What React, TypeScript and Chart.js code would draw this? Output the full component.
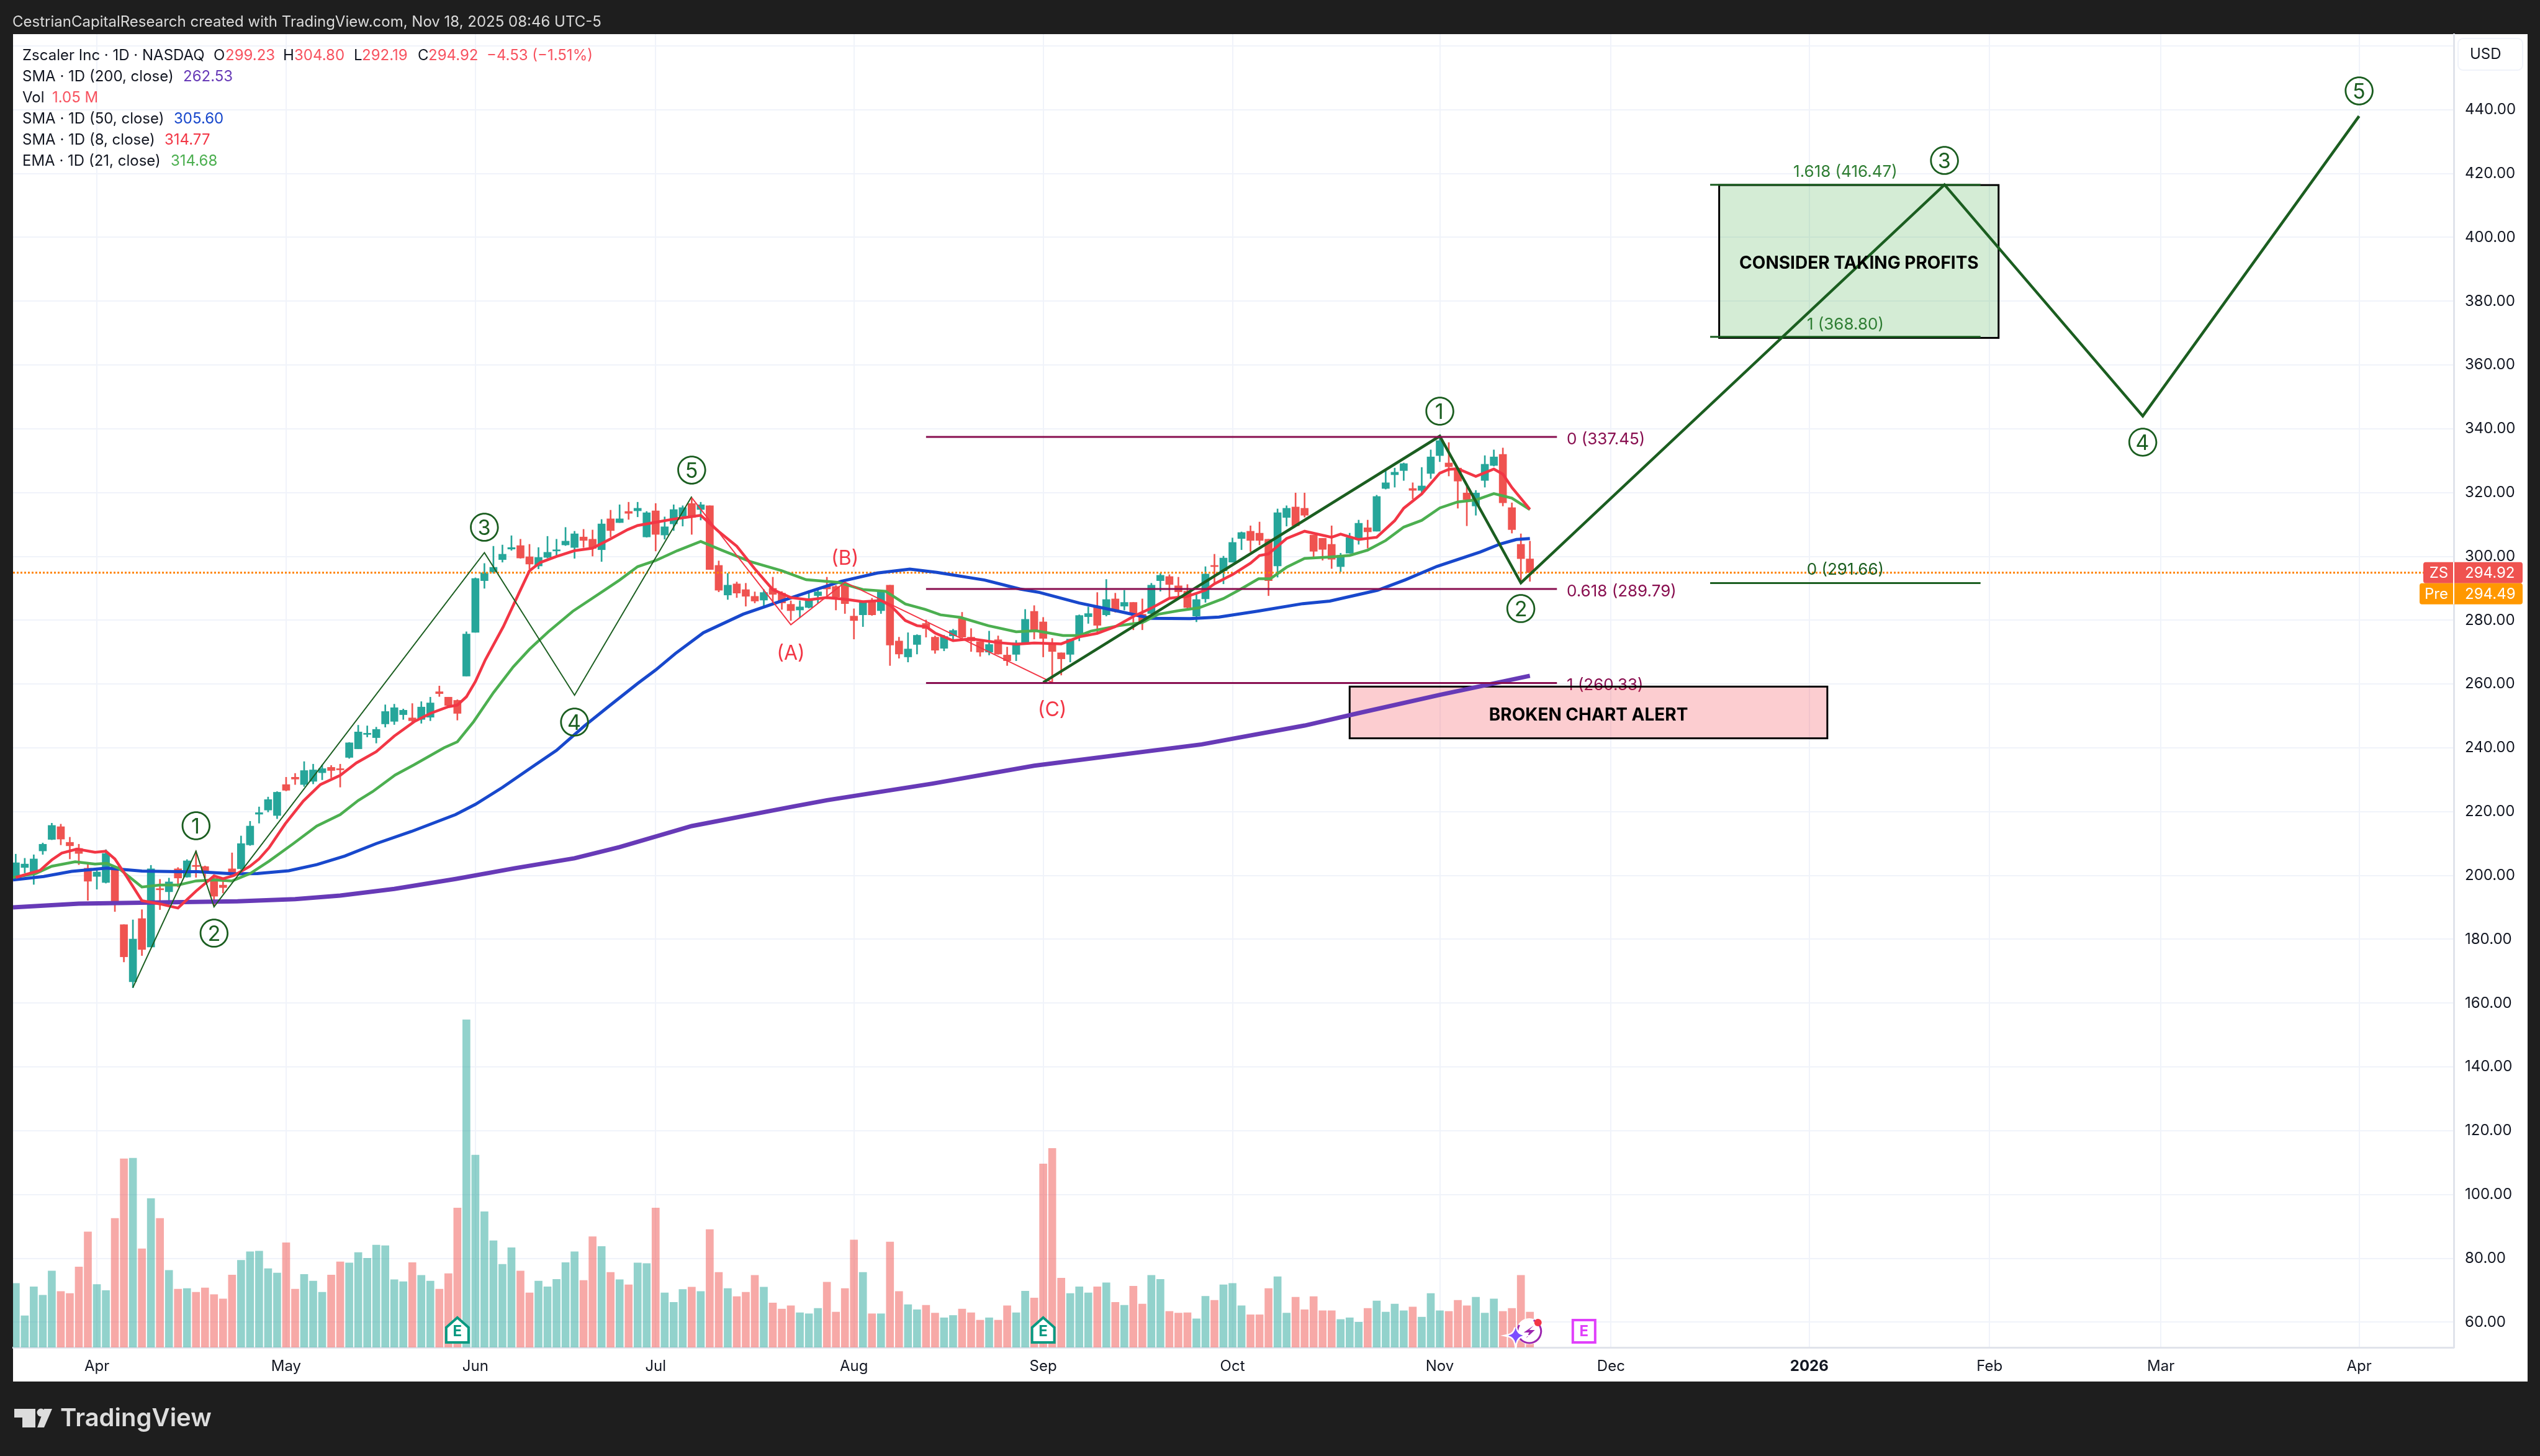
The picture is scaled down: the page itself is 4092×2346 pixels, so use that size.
import React, { useEffect, useRef } from 'react';
import { Chart, registerables } from 'chart.js';

Chart.register(...registerables);

// bars run from index -9 (mid March) to 159 (Nov 17), index 0 = Apr 1
const firstBar = -9;

const opens = [
  199.4, 202.5, 200.5, 207.7, 211.3, 215.3, 210.4, 208.5, 202.3, 199.7,
  197.8, 202.8, 184.6, 166.7, 186.5, 177.6, 195.9, 194.9, 202.1, 199.5,
  203.2, 202.8, 199.2, 197.0, 202.1, 202.1, 209.6, 219.2, 220.5, 218.8,
  228.5, 230.8, 228.5, 229.5, 232.2, 233.9, 233.5, 237.0, 239.7, 244.2,
  243.2, 247.5, 248.3, 250.4, 249.4, 248.9, 249.6, 257.6, 255.9, 254.9,
  262.5, 276.2, 292.4, 295.1, 299.0, 302.3, 303.4, 299.9, 297.0, 299.7,
  301.7, 303.6, 302.8, 306.1, 305.4, 302.1, 311.8, 310.6, 314.1, 314.3,
  306.1, 314.3, 306.7, 310.2, 312.6, 316.6, 314.7, 315.9, 297.2, 287.9,
  291.4, 289.6, 287.5, 286.3, 290.0, 288.5, 285.0, 283.2, 284.0, 287.7,
  290.6, 290.6, 291.0, 281.3, 281.7, 286.0, 283.0, 291.0, 273.5, 268.5,
  272.4, 279.0, 274.7, 271.2, 275.1, 280.5, 274.7, 273.3, 270.0, 273.9,
  269.1, 269.3, 272.6, 282.8, 279.5, 272.4, 269.8, 269.3, 274.7, 281.1,
  284.2, 281.7, 286.7, 284.4, 285.6, 281.9, 282.1, 292.4, 293.7, 290.8,
  289.1, 281.3, 286.7, 297.2, 295.5, 298.2, 305.6, 307.9, 307.3, 305.4,
  297.0, 312.2, 315.5, 315.1, 306.7, 305.7, 303.8, 296.8, 301.0, 305.5,
  309.0, 307.9, 321.3, 325.6, 326.9, 321.3, 320.7, 326.0, 331.6, 329.3,
  327.7, 319.9, 315.8, 323.8, 328.5, 332.0, 315.3, 303.8, 299.23,
];
const highs = [
  206.7, 205.4, 206.5, 210.2, 216.4, 216.1, 212.0, 209.8, 203.4, 202.3,
  208.1, 202.8, 184.6, 186.1, 189.3, 203.2, 198.8, 199.2, 202.5, 205.0,
  207.7, 203.0, 199.4, 199.0, 207.1, 212.4, 217.0, 221.5, 224.6, 226.3,
  230.8, 232.0, 235.7, 234.9, 234.7, 234.5, 234.9, 241.7, 247.1, 246.9,
  246.5, 253.5, 253.7, 252.2, 253.9, 254.5, 255.9, 259.4, 255.9, 255.1,
  276.4, 293.3, 297.8, 303.2, 303.6, 306.5, 305.4, 303.8, 302.8, 306.3,
  305.4, 309.1, 307.9, 308.5, 308.3, 311.6, 314.5, 316.2, 317.0, 317.0,
  314.1, 316.6, 312.4, 316.2, 315.9, 318.4, 317.0, 315.9, 298.6, 294.7,
  292.0, 291.6, 288.9, 289.6, 293.5, 289.0, 286.1, 286.1, 289.3, 289.6,
  293.5, 290.9, 292.0, 283.6, 286.1, 286.9, 289.3, 291.0, 274.7, 276.1,
  275.5, 280.1, 275.1, 275.3, 277.2, 282.5, 277.4, 273.3, 276.6, 275.1,
  271.6, 273.7, 283.4, 284.6, 280.9, 274.3, 269.8, 274.1, 281.7, 284.2,
  288.7, 292.8, 288.5, 289.4, 285.6, 286.7, 291.6, 294.7, 294.3, 293.5,
  291.2, 288.5, 296.8, 300.7, 300.1, 305.8, 307.7, 309.6, 310.8, 305.4,
  314.9, 315.9, 319.9, 319.9, 306.7, 305.7, 309.6, 301.0, 307.3, 311.4,
  311.4, 319.2, 326.8, 327.7, 329.3, 323.1, 327.9, 333.4, 337.7, 335.7,
  327.7, 321.9, 320.7, 331.6, 333.4, 334.0, 316.8, 307.1, 304.8,
];
const lows = [
  199.0, 200.8, 197.2, 206.6, 211.2, 209.6, 205.2, 203.4, 192.2, 195.7,
  197.6, 188.7, 172.9, 164.8, 174.9, 177.6, 189.3, 190.6, 196.4, 199.4,
  199.4, 199.2, 190.6, 194.5, 200.3, 201.9, 209.4, 216.4, 219.9, 217.8,
  226.5, 228.5, 227.9, 228.7, 230.0, 230.6, 227.7, 236.7, 239.7, 243.4,
  241.5, 246.5, 247.3, 248.9, 247.9, 247.7, 248.5, 256.1, 253.3, 248.7,
  262.5, 276.2, 290.0, 294.7, 298.2, 301.9, 299.4, 296.1, 296.1, 299.5,
  299.9, 303.4, 299.4, 302.8, 300.1, 298.4, 306.1, 310.6, 311.6, 312.4,
  306.0, 301.7, 305.4, 308.1, 309.5, 306.9, 311.4, 295.9, 288.9, 286.5,
  287.1, 284.4, 285.4, 284.6, 285.4, 283.4, 279.9, 280.9, 283.8, 285.4,
  286.7, 283.2, 282.1, 274.1, 278.0, 281.5, 282.1, 265.8, 268.1, 266.9,
  269.4, 274.7, 269.6, 270.4, 273.9, 273.7, 270.2, 268.7, 269.1, 269.3,
  265.8, 267.3, 272.6, 274.1, 268.5, 260.5, 262.8, 266.9, 273.5, 279.0,
  276.2, 281.3, 282.5, 283.2, 277.0, 277.0, 282.1, 289.1, 286.9, 287.5,
  283.2, 279.5, 285.6, 291.4, 291.4, 298.2, 302.1, 301.5, 303.6, 287.7,
  293.5, 309.5, 309.6, 312.3, 299.5, 298.8, 296.2, 295.2, 301.0, 303.8,
  302.6, 307.9, 321.1, 321.7, 323.8, 318.0, 319.4, 324.4, 329.7, 325.2,
  315.1, 309.6, 312.9, 321.7, 328.3, 315.8, 307.3, 292.3, 292.19,
];
const closes = [
  204.0, 203.6, 205.2, 209.8, 215.7, 211.4, 209.3, 206.9, 198.2, 201.1,
  206.9, 192.0, 174.5, 180.1, 176.8, 202.1, 195.5, 198.0, 199.2, 204.6,
  202.8, 200.9, 193.5, 196.2, 200.3, 210.0, 215.5, 219.7, 223.8, 226.1,
  226.7, 230.2, 232.9, 233.1, 233.5, 232.9, 233.1, 241.6, 245.0, 244.6,
  245.8, 251.4, 252.6, 251.8, 248.5, 252.8, 254.1, 257.0, 253.3, 250.8,
  275.7, 293.1, 294.9, 296.6, 300.7, 302.8, 299.5, 297.6, 299.7, 301.3,
  302.1, 304.8, 307.1, 305.0, 302.5, 310.2, 308.1, 311.8, 313.5, 315.1,
  313.7, 306.9, 309.3, 314.7, 315.3, 312.2, 316.2, 295.9, 289.4, 291.0,
  288.5, 287.5, 286.0, 288.7, 288.1, 285.4, 283.0, 284.2, 286.1, 288.9,
  289.8, 287.3, 285.2, 279.9, 286.0, 281.7, 289.3, 272.2, 269.4, 271.0,
  275.3, 277.4, 270.6, 274.9, 276.8, 274.7, 273.5, 270.0, 272.4, 269.4,
  267.3, 272.9, 280.3, 276.8, 274.3, 270.2, 267.9, 274.1, 281.5, 282.1,
  278.4, 286.5, 282.8, 285.6, 281.7, 279.4, 291.0, 294.1, 291.2, 288.9,
  284.0, 286.5, 294.5, 296.8, 299.5, 304.4, 307.5, 305.0, 305.0, 292.4,
  313.7, 315.1, 309.6, 312.9, 301.6, 302.2, 299.1, 300.3, 305.9, 310.4,
  307.7, 318.8, 323.1, 326.4, 329.1, 320.7, 322.1, 331.2, 336.3, 328.1,
  323.6, 317.8, 319.9, 328.9, 331.2, 316.8, 308.4, 299.3, 294.92,
];
const volumes = [
  1.90, 0.94, 1.80, 1.55, 2.27, 1.66, 1.60, 2.39, 3.43, 1.87, 1.69, 3.83, 5.60, 5.62, 2.93, 4.42, 3.83, 2.29, 1.73, 1.75,
  1.64, 1.77, 1.57, 1.44, 2.15, 2.59, 2.84, 2.86, 2.34, 2.21, 3.11, 1.73, 2.17, 1.97, 1.64, 2.15, 2.54, 2.51, 2.82, 2.65,
  3.04, 3.02, 2.01, 1.95, 2.52, 2.14, 1.97, 1.73, 2.19, 4.14, 9.73, 5.71, 4.03, 3.17, 2.47, 2.96, 2.27, 1.62, 1.97, 1.80,
  2.02, 2.52, 2.84, 1.99, 3.29, 3.00, 2.23, 2.01, 1.86, 2.51, 2.49, 4.14, 1.62, 1.34, 1.72, 1.79, 1.66, 3.50, 2.23, 1.75,
  1.51, 1.64, 2.14, 1.79, 1.32, 1.14, 1.24, 1.03, 1.00, 1.16, 1.94, 1.05, 1.75, 3.19, 2.23, 1.00, 1.00, 3.13, 1.66, 1.27,
  1.12, 1.25, 1.02, 0.88, 0.95, 1.14, 1.03, 0.81, 0.88, 0.81, 1.24, 1.03, 1.67, 1.47, 5.45, 5.91, 2.06, 1.60, 1.80, 1.62,
  1.80, 1.92, 1.34, 1.25, 1.82, 1.29, 2.14, 2.02, 1.07, 1.02, 1.03, 0.85, 1.52, 1.40, 1.86, 1.90, 1.24, 0.97, 0.97, 1.75,
  2.10, 1.02, 1.49, 1.12, 1.51, 1.09, 1.09, 0.83, 0.88, 0.75, 1.16, 1.38, 1.05, 1.29, 1.09, 1.20, 0.90, 1.60, 1.09, 1.07,
  1.40, 1.24, 1.49, 1.02, 1.44, 1.07, 1.16, 2.14, 1.05,
];

// moving averages: [bar index, price]
const sma200: [number, number][] = [
  [-9.3, 190.0], [-2, 191.2], [6, 191.5], [15.6, 191.9], [22, 192.6], [27, 193.7], [33, 195.8], [39.8, 198.9], [46.4, 202.3], [53, 205.4], [58, 208.9],
  [66, 215.5], [77.4, 221.7], [81, 223.6], [92.7, 228.8], [104, 234.4], [122.6, 241.1], [134, 247.0], [140, 250.9], [149, 256.6], [159, 262.6],
];
const sma50: [number, number][] = [
  [-9.3, 198.6], [-5.9, 199.7], [-2.8, 201.3], [1.1, 202.3], [5, 201.4], [9, 201.2], [11.2, 201.2], [15.2, 200.5], [17.8, 200.6], [21.3, 201.5], [24.4, 203.4],
  [27.5, 206.1], [31, 210.0], [34.9, 213.8], [39.8, 219.1], [42, 222.3], [45, 227.6], [48.6, 234.6], [51, 239.2], [54.1, 246.9], [56.7, 252.8], [60, 260.2],
  [62, 264.4], [64.2, 269.6], [67.3, 276.1], [71.7, 281.9], [75.7, 285.8], [79.1, 289.0], [82.6, 292.2], [86.6, 294.8], [90.2, 296.0], [93.2, 295.0], [98.5, 292.6],
  [102.4, 289.8], [104.6, 288.7], [109, 285.4], [113.4, 282.8], [116.9, 280.6], [121.3, 280.5], [124.5, 281.0], [128.9, 282.9], [133.8, 285.2], [136.8, 286.0],
  [142.1, 289.4], [145.2, 292.7], [148.7, 296.9], [153.5, 301.4], [155.7, 303.9], [157.5, 305.3], [159, 305.6],
];
const ema21: [number, number][] = [
  [-9.3, 199.4], [-6.8, 200.6], [-5, 202.9], [-2.4, 204.3], [-0.2, 203.6], [1.1, 203.8], [2.4, 202.3], [5, 196.4], [7, 197.0], [9, 197.0], [11, 198.3], [13, 198.6],
  [15, 198.3], [17, 200.6], [19.1, 204.5], [21.8, 210.0], [24.4, 215.5], [27, 219.1], [29, 223.5], [30.6, 226.3], [33.1, 231.5], [35.2, 234.7], [38.5, 240.0], [40, 241.9],
  [41.8, 248.2], [44, 257.3], [46.2, 265.4], [48, 270.9], [50.1, 276.4], [52.8, 282.8], [56.1, 289.0], [58, 292.6], [60, 296.8], [62, 298.7], [64.4, 301.8], [67, 304.7],
  [69.4, 301.9], [72.5, 298.4], [76, 295.5], [78.7, 292.7], [82.2, 291.9], [85, 289.6], [87.5, 289.1], [89.7, 285.1], [91.9, 283.4], [93.6, 281.7], [95.8, 280.9],
  [98.9, 278.3], [102, 276.4], [104.2, 276.7], [107.2, 275.2], [109, 275.2], [110.3, 276.6], [113.4, 278.3], [116, 279.3], [117.8, 281.9], [120, 283.0], [122.3, 283.9],
  [125, 286.8], [126.7, 289.4], [128.9, 293.0], [130.2, 293.0], [132, 296.6], [134, 299.4], [136.8, 299.8], [139, 300.3], [141, 302.0], [143, 305.0], [145, 309.2],
  [147, 311.3], [149, 315.2], [151, 317.1], [153, 317.7], [155, 319.7], [157, 318.3], [159, 314.68],
];
const sma8: [number, number][] = [
  [-9, 199.4], [-6.3, 201.6], [-5, 204.9], [-3.9, 207.0], [-2.2, 208.3], [-0.2, 207.3], [1, 207.6], [2, 205.2], [3.3, 199.7], [5, 192.1], [7, 191.1], [9, 189.8], [11, 195.1],
  [13, 199.9], [14, 199.0], [15.2, 200.0], [17, 202.9], [18, 205.2], [19.1, 208.7], [20.9, 216.2], [22.9, 223.3], [24.8, 228.5], [27, 231.4], [28.8, 235.3], [31, 238.8],
  [33, 243.7], [35.2, 248.2], [37, 250.8], [39, 252.9], [40, 253.4], [41, 256.0], [42, 260.8], [43.1, 267.6], [45.1, 278.0], [46.8, 288.3], [48, 295.5], [49.2, 298.1],
  [51, 300.0], [53, 301.8], [55, 302.6], [57, 305.5], [58.9, 308.4], [60, 309.7], [62, 310.7], [64.2, 311.8], [67, 312.9], [69, 307.8], [71, 303.2], [73, 296.1], [75, 289.6],
  [77, 287.1], [79, 286.4], [81, 287.1], [83, 286.6], [85, 285.8], [87, 286.2], [88.1, 284.5], [89.7, 279.9], [91, 278.3], [92, 278.0], [93, 276.0], [95, 273.6], [97, 274.2],
  [100, 273.0], [102, 272.5], [104, 272.9], [107, 272.6], [109, 274.8], [111, 275.9], [113, 278.0], [115, 281.2], [117, 283.8], [119, 286.9], [121, 287.5], [123, 289.4],
  [124, 291.4], [126, 294.3], [128, 297.9], [129, 300.3], [130, 300.8], [132, 305.6], [134, 307.9], [137, 306.0], [138, 307.0], [140, 305.3], [142, 306.0], [144, 311.2],
  [145, 315.1], [147, 319.6], [149, 326.1], [150, 327.3], [151, 327.5], [153, 325.1], [155, 327.4], [156, 325.8], [157, 321.6], [159, 314.77],
];

// drawn wave counts
const thinWave: [number, number][] = [[4, 164.9], [11, 207.6], [13, 190.2], [43, 301.2], [53, 256.5], [66, 318.8]];
const redWave: [number, number][] = [[66, 318.4], [77, 278.6], [83, 291.9], [106, 260.5]];
const thickWave: [number, number][] = [[105, 260.5], [149, 337.7], [158, 291.7], [205, 416.5], [227, 344.0], [251, 438.0]];

const fibSpan = [92, 162];
const fibLevels = [337.45, 289.79, 260.33];
const fibTexts = ['0 (337.45)', '0.618 (289.79)', '1 (260.33)'];
const targetSpan = [179, 209];
const targetLevels = [416.47, 368.8, 291.66];
const lastPrice = 294.92;

const waveLabels: [string, number, number][] = [
  ['①', 11, 215.7], ['②', 13, 182.1], ['③', 43, 309.3], ['④', 53, 248.2], ['⑤', 66, 327.2],
  ['①', 149, 345.6], ['②', 158, 283.8], ['③', 205, 424.3], ['④', 227, 336.0], ['⑤', 251, 446.0],
];
const abcLabels: [string, number, number][] = [['(A)', 77, 269.9], ['(B)', 83, 299.6], ['(C)', 106, 252.2]];

const monthTicks = [0, 21, 42, 62, 84, 105, 126, 149, 168, 190, 210, 229, 251];
const monthLabels = ['Apr', 'May', 'Jun', 'Jul', 'Aug', 'Sep', 'Oct', 'Nov', 'Dec', '2026', 'Feb', 'Mar', 'Apr'];
const priceTicks = [60, 80, 100, 120, 140, 160, 180, 200, 220, 240, 260, 280, 300, 320, 340, 360, 380, 400, 420, 440, 460];

const UP = '#26a69a';
const DOWN = '#ef5350';
const DARK_GREEN = '#1b5e20';
const FIB = '#880e4f';
const FONT = 'Inter, "Noto Sans", sans-serif';

const toPoints = (list: [number, number][]) => list.map(([x, y]) => ({ x, y }));
const barX = (i: number) => firstBar + i;
const isUp = (i: number) => closes[i] >= opens[i];

const pageBackground = {
  id: 'pageBackground',
  beforeDraw(chart: Chart) {
    const { ctx, width, height } = chart;
    ctx.save();
    ctx.fillStyle = '#1e1e1e';
    ctx.fillRect(0, 0, width, height);
    ctx.fillStyle = '#ffffff';
    ctx.fillRect(21, 55, 4051, 2171);
    ctx.restore();
  },
};

function label(ctx: CanvasRenderingContext2D, text: string, x: number, y: number, font: string, color: string, align: CanvasTextAlign = 'left') {
  ctx.font = font;
  ctx.fillStyle = color;
  ctx.textAlign = align;
  ctx.textBaseline = 'middle';
  ctx.fillText(text, x, y);
}

// fib labels sit under the boxes, the boxes sit under the series
const drawingsBelow = {
  id: 'drawingsBelow',
  beforeDatasetsDraw(chart: Chart) {
    const { ctx } = chart;
    const xs = chart.scales.x;
    const ys = chart.scales.y;
    ctx.save();
    fibTexts.forEach((text, i) => {
      label(ctx, text, 2524, ys.getPixelForValue(fibLevels[i]) + 4, `26px ${FONT}`, FIB);
    });
    const box = (x1: number, x2: number, y1: number, y2: number, fill: string) => {
      const left = xs.getPixelForValue(x1);
      const right = xs.getPixelForValue(x2);
      const top = ys.getPixelForValue(y1);
      const bottom = ys.getPixelForValue(y2);
      ctx.fillStyle = fill;
      ctx.fillRect(left, top, right - left, bottom - top);
      ctx.strokeStyle = '#000000';
      ctx.lineWidth = 3;
      ctx.strokeRect(left, top, right - left, bottom - top);
    };
    box(180, 211, 416.4, 368.5, 'rgba(76,175,80,0.24)');
    box(139, 192, 259.2, 243, 'rgba(242,54,69,0.25)');
    ctx.restore();
  },
};

const drawingsAbove = {
  id: 'drawingsAbove',
  afterDatasetsDraw(chart: Chart) {
    const { ctx } = chart;
    const xs = chart.scales.x;
    const ys = chart.scales.y;
    ctx.save();

    // legend block
    label(ctx, 'Zscaler Inc · 1D · NASDAQ', 36, 90, `24px ${FONT}`, '#131722');
    const red = '#f7525f';
    [['O', 344], ['H', 456], ['L', 570], ['C', 673]].forEach(([t, x]) => label(ctx, t as string, x as number, 90, `24px ${FONT}`, '#131722'));
    [['299.23', 363], ['304.80', 474], ['292.19', 583], ['294.92', 690], ['−4.53 (−1.51%)', 784]].forEach(([t, x]) =>
      label(ctx, t as string, x as number, 90, `24px ${FONT}`, red),
    );
    const rows: [string, string, number, number, string][] = [
      ['SMA · 1D (200, close)', '262.53', 295, 124, '#673ab7'],
      ['Vol', '1.05 M', 84, 158, red],
      ['SMA · 1D (50, close)', '305.60', 280, 192, '#1848cc'],
      ['SMA · 1D (8, close)', '314.77', 265, 226, '#f23645'],
      ['EMA · 1D (21, close)', '314.68', 275, 260, '#4caf50'],
    ];
    rows.forEach(([name, value, vx, y, color]) => {
      label(ctx, name, 36, y, `24px ${FONT}`, '#131722');
      label(ctx, value, vx, y, `24px ${FONT}`, color);
    });

    // header and footer
    label(ctx, 'CestrianCapitalResearch created with TradingView.com, Nov 18, 2025 08:46 UTC-5', 20, 36, `24px ${FONT}`, '#dadada');
    label(ctx, 'TradingView', 97, 2286, `600 40px ${FONT}`, '#dddddd');
    ctx.fillStyle = '#dddddd';
    ctx.fillRect(23, 2270, 34, 14);
    ctx.fillRect(36, 2270, 21, 30);
    ctx.beginPath();
    ctx.arc(66, 2276, 6.5, 0, Math.PI * 2);
    ctx.fill();
    ctx.beginPath();
    ctx.moveTo(71, 2270);
    ctx.lineTo(84, 2270);
    ctx.lineTo(71, 2300);
    ctx.lineTo(60, 2300);
    ctx.closePath();
    ctx.fill();

    // wave labels
    waveLabels.forEach(([t, x, y]) => label(ctx, t, xs.getPixelForValue(x), ys.getPixelForValue(y) + 3, `34px ${FONT}`, DARK_GREEN, 'center'));
    abcLabels.forEach(([t, x, y]) => label(ctx, t, xs.getPixelForValue(x), ys.getPixelForValue(y) + 2, `32px ${FONT}`, '#f23645', 'center'));

    // target zone text
    const cx = xs.getPixelForValue(194);
    label(ctx, '1.618 (416.47)', cx, ys.getPixelForValue(416.47) - 21, `26px ${FONT}`, '#2e7d32', 'center');
    label(ctx, '1 (368.80)', cx, ys.getPixelForValue(368.8) - 20, `26px ${FONT}`, '#2e7d32', 'center');
    label(ctx, '0 (291.66)', cx, ys.getPixelForValue(291.66) - 21, `26px ${FONT}`, DARK_GREEN, 'center');
    label(ctx, 'CONSIDER TAKING PROFITS', cx + 22, ys.getPixelForValue(391.8), `700 28px ${FONT}`, '#000000', 'center');
    label(ctx, 'BROKEN CHART ALERT', xs.getPixelForValue(165.5), ys.getPixelForValue(250.2), `700 28px ${FONT}`, '#000000', 'center');

    // earnings flags
    [40, 105].forEach((bar) => {
      const x = xs.getPixelForValue(bar);
      ctx.beginPath();
      ctx.moveTo(x, 2123);
      ctx.lineTo(x + 18, 2139);
      ctx.lineTo(x + 18, 2163);
      ctx.lineTo(x - 18, 2163);
      ctx.lineTo(x - 18, 2139);
      ctx.closePath();
      ctx.fillStyle = '#ffffff';
      ctx.fill();
      ctx.strokeStyle = '#089981';
      ctx.lineWidth = 4;
      ctx.stroke();
      label(ctx, 'E', x, 2146, `700 24px ${FONT}`, '#089981', 'center');
    });
    const nextE = xs.getPixelForValue(165);
    ctx.fillStyle = '#ffffff';
    ctx.fillRect(nextE - 18, 2127, 36, 36);
    ctx.strokeStyle = '#e040fb';
    ctx.lineWidth = 4;
    ctx.strokeRect(nextE - 18, 2127, 36, 36);
    label(ctx, 'E', nextE, 2146, `700 24px ${FONT}`, '#e040fb', 'center');

    // news / ideas badge
    const bx = xs.getPixelForValue(159) - 1;
    ctx.beginPath();
    ctx.arc(bx, 2145, 21, 0, Math.PI * 2);
    ctx.fillStyle = '#ffffff';
    ctx.fill();
    ctx.beginPath();
    ctx.arc(bx, 2145, 19, -1.2, 3.7);
    ctx.strokeStyle = '#9c27b0';
    ctx.lineWidth = 3;
    ctx.stroke();
    ctx.beginPath();
    ctx.moveTo(bx + 7, 2136);
    ctx.lineTo(bx - 9, 2147);
    ctx.lineTo(bx, 2147);
    ctx.lineTo(bx - 5, 2156);
    ctx.lineTo(bx + 9, 2143);
    ctx.lineTo(bx, 2143);
    ctx.closePath();
    ctx.fillStyle = '#9c27b0';
    ctx.fill();
    ctx.beginPath();
    ctx.arc(bx + 14, 2131, 6, 0, Math.PI * 2);
    ctx.fillStyle = '#f23645';
    ctx.fill();
    const sx = bx - 22;
    ctx.beginPath();
    ctx.moveTo(sx, 2139);
    ctx.quadraticCurveTo(sx + 2, 2150, sx + 12, 2152);
    ctx.quadraticCurveTo(sx + 2, 2154, sx, 2165);
    ctx.quadraticCurveTo(sx - 2, 2154, sx - 12, 2152);
    ctx.quadraticCurveTo(sx - 2, 2150, sx, 2139);
    ctx.strokeStyle = '#ffffff';
    ctx.lineWidth = 5;
    ctx.stroke();
    ctx.fillStyle = '#7c4dff';
    ctx.fill();

    // currency button and price tags on the axis
    ctx.strokeStyle = '#f0f3fa';
    ctx.lineWidth = 2;
    ctx.beginPath();
    ctx.roundRect(3960, 62, 104, 51, 8);
    ctx.stroke();
    label(ctx, 'USD', 3979, 88, `24px ${FONT}`, '#131722');

    const py = ys.getPixelForValue(lastPrice);
    ctx.fillStyle = DOWN;
    ctx.beginPath();
    ctx.roundRect(3904, py - 17, 160, 34, 4);
    ctx.fill();
    ctx.fillStyle = '#ff9800';
    ctx.beginPath();
    ctx.roundRect(3898, py + 17, 166, 34, 4);
    ctx.fill();
    ctx.fillStyle = '#ffffff';
    ctx.fillRect(3952, py - 17, 2, 68);
    label(ctx, 'ZS', 3929, py + 1, `24px ${FONT}`, '#ffffff', 'center');
    label(ctx, '294.92', 3971, py + 1, `24px ${FONT}`, '#ffffff');
    label(ctx, 'Pre', 3925, py + 35, `24px ${FONT}`, '#ffffff', 'center');
    label(ctx, '294.49', 3971, py + 35, `24px ${FONT}`, '#ffffff');
    ctx.restore();
  },
};

function lineSet(label: string, data: { x: number; y: number }[], color: string, width: number, order: number, extra = {}) {
  return {
    type: 'line' as const,
    label,
    data,
    yAxisID: 'y',
    borderColor: color,
    borderWidth: width,
    pointRadius: 0,
    tension: 0,
    fill: false,
    order,
    ...extra,
  };
}

export default function App() {
  const canvasRef = useRef<HTMLCanvasElement | null>(null);

  useEffect(() => {
    if (!canvasRef.current) return;
    document.body.style.margin = '0';
    document.body.style.background = '#1e1e1e';

    const chart = new Chart(canvasRef.current, {
      type: 'line',
      data: {
        datasets: [
          {
            type: 'bar',
            label: 'Vol',
            data: volumes.map((v, i) => ({ x: barX(i), y: v })),
            yAxisID: 'vol',
            backgroundColor: volumes.map((_, i) => (isUp(i) ? 'rgba(38,166,154,0.5)' : 'rgba(239,83,80,0.5)')),
            barThickness: 12,
            grouped: false,
            order: 60,
          },
          {
            type: 'bar',
            label: 'Wicks',
            data: highs.map((h, i) => ({ x: barX(i), y: [lows[i], h] })),
            yAxisID: 'y',
            backgroundColor: highs.map((_, i) => (isUp(i) ? UP : DOWN)),
            barThickness: 2,
            grouped: false,
            order: 50,
          },
          {
            type: 'bar',
            label: 'Bodies',
            data: opens.map((o, i) => ({ x: barX(i), y: [o, closes[i]] })),
            yAxisID: 'y',
            backgroundColor: opens.map((_, i) => (isUp(i) ? UP : DOWN)),
            barThickness: 12,
            grouped: false,
            order: 49,
          },
          lineSet('Last', [{ x: -9.3, y: lastPrice }, { x: 261.5, y: lastPrice }], '#ff8000', 3, 45, { borderDash: [3, 3] }),
          lineSet('SMA 200', toPoints(sma200), '#673ab7', 7, 40),
          lineSet('SMA 50', toPoints(sma50), '#1848cc', 5, 39),
          lineSet('EMA 21', toPoints(ema21), '#4caf50', 4.5, 38),
          lineSet('SMA 8', toPoints(sma8), '#f23645', 4.5, 37),
          lineSet('Thin wave', toPoints(thinWave), DARK_GREEN, 2, 30),
          lineSet('Red wave', toPoints(redWave), '#f23645', 2, 29),
          lineSet('Thick wave', toPoints(thickWave), DARK_GREEN, 4.5, 28),
          ...fibLevels.map((level, i) =>
            lineSet(`Fib ${i}`, fibSpan.map((x) => ({ x, y: level })), FIB, 3, 27),
          ),
          ...targetLevels.map((level, i) =>
            lineSet(`Target ${i}`, targetSpan.map((x) => ({ x, y: level })), DARK_GREEN, 3, 26),
          ),
        ],
      },
      options: {
        responsive: false,
        animation: false,
        events: [],
        layout: { padding: { left: 21, top: 55, right: 20, bottom: 120 } },
        plugins: { legend: { display: false }, tooltip: { enabled: false }, title: { display: false } },
        scales: {
          x: {
            type: 'linear',
            min: -9.3,
            max: 261.5,
            offset: false,
            afterBuildTicks: (axis) => {
              axis.ticks = monthTicks.map((value) => ({ value }));
            },
            afterFit: (axis) => {
              axis.height = 55;
            },
            grid: { color: '#f0f3fa', lineWidth: 2, offset: false, drawTicks: false },
            border: { display: true, color: '#e0e3eb', width: 3 },
            ticks: {
              autoSkip: false,
              maxRotation: 0,
              padding: 16,
              color: '#131722',
              font: (ctx: any) => ({ family: FONT, size: 24, weight: monthLabels[ctx.index] === '2026' ? 'bold' : 'normal' }),
              callback: (_value, index) => monthLabels[index],
            },
          },
          y: {
            type: 'linear',
            position: 'right',
            min: 52.1,
            max: 463.7,
            afterBuildTicks: (axis) => {
              axis.ticks = priceTicks.map((value) => ({ value }));
            },
            afterFit: (axis) => {
              axis.width = 119;
            },
            grid: { color: '#f0f3fa', lineWidth: 2, drawTicks: false },
            border: { display: true, color: '#e0e3eb', width: 3 },
            ticks: {
              autoSkip: false,
              padding: 18,
              color: '#131722',
              font: { family: FONT, size: 24 },
              callback: (value) => (value === 460 ? '' : Number(value).toFixed(2)),
            },
          },
          vol: {
            type: 'linear',
            display: false,
            min: 0,
            max: 39,
          },
        },
      },
      plugins: [pageBackground, drawingsBelow, drawingsAbove],
    });

    return () => {
      chart.destroy();
    };
  }, []);

  return <canvas ref={canvasRef} width={4092} height={2346} style={{ display: 'block' }} />;
}
